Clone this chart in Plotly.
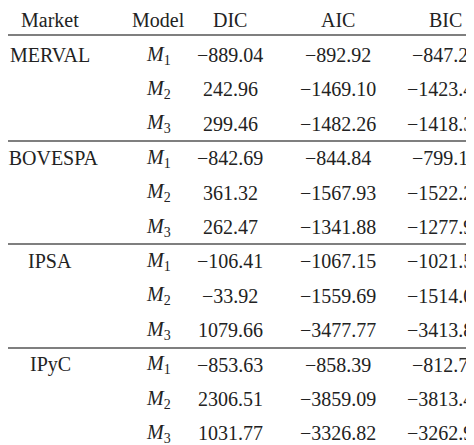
import plotly.graph_objects as go

markets = ["MERVAL", "IBOVESPA", "IPSA", "IPyC"]
models = ["1", "2", "3"]
headers = ["Market", "Model", "DIC", "AIC", "BIC"]
dic = [-889.04, 242.96, 299.46, -842.69, 361.32, 262.47, -106.41, -33.92, 1079.66, -853.63, 2306.51, 1031.77]
aic = [-892.92, -1469.10, -1482.26, -844.84, -1567.93, -1341.88, -1067.15, -1559.69, -3477.77, -858.39, -3859.09, -3326.82]
bic = [-847.28, -1423.46, -1418.36, -799.19, -1522.29, -1277.98, -1021.51, -1514.04, -3413.86, -812.75, -3813.44, -3262.92]

colx = [42, 150, 222, 330, 437]
fmt = lambda v: ("−" if v < 0 else "") + f"{abs(v):.2f}"
font = dict(family="Liberation Serif, DejaVu Serif, serif", size=20, color="#222")

fig = go.Figure()
ann = []
for i, h in enumerate(headers):
    ann.append(dict(x=colx[i], y=12, text=h))
for k in range(12):
    y = 47 + k * 34.4
    if k % 3 == 0:
        ann.append(dict(x=colx[0], y=y, text=markets[k // 3]))
    ann.append(dict(x=colx[1], y=y, text=f"<i>M</i><sub>{models[k % 3]}</sub>"))
    ann.append(dict(x=colx[2], y=y, text=fmt(dic[k])))
    ann.append(dict(x=colx[3], y=y, text=fmt(aic[k])))
    ann.append(dict(x=colx[4], y=y, text=fmt(bic[k])))
for a in ann:
    a.update(xref="x", yref="y", showarrow=False, font=font)

shapes = [dict(type="line", xref="x", yref="y", x0=0, x1=474, y0=yy, y1=yy,
               line=dict(color="#555", width=1.5)) for yy in [27, 133, 236, 340]]

fig.update_layout(width=474, height=445, margin=dict(l=0, r=0, t=0, b=0),
                  plot_bgcolor="white", paper_bgcolor="white",
                  annotations=ann, shapes=shapes,
                  xaxis=dict(range=[0, 474], visible=False),
                  yaxis=dict(range=[445, 0], visible=False))
fig.write_html("out.html")
